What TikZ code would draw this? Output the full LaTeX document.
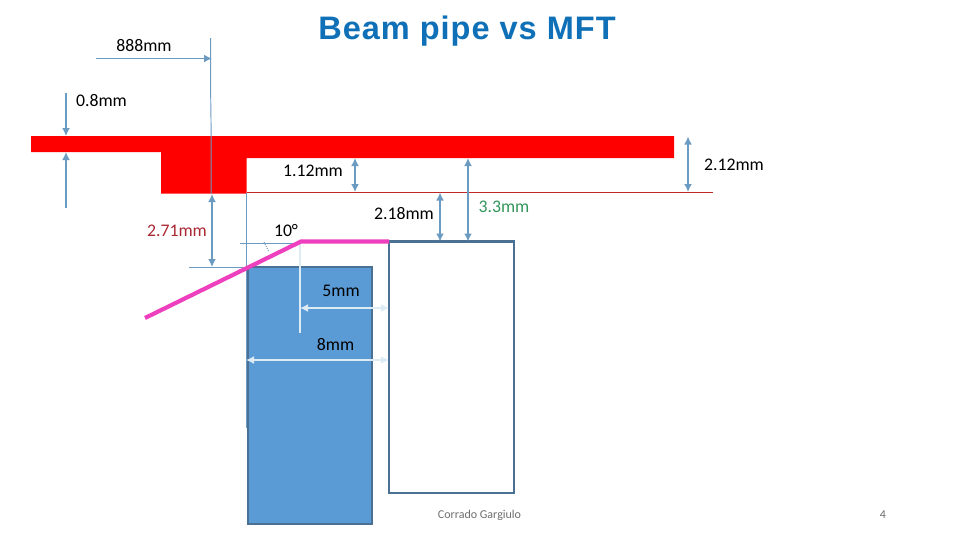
\documentclass[tikz,border=0pt]{standalone}
\usepackage{fontspec}
\setmainfont{Carlito}
\newfontfamily\titlefont[LetterSpace=3]{Liberation Sans}
\usetikzlibrary{arrows.meta}
\definecolor{dimblue}{HTML}{6C9BC2}
\definecolor{boxedge}{HTML}{4A7094}
\definecolor{boxfill}{HTML}{5B9BD5}
\definecolor{pinkline}{HTML}{EE3FBE}
\definecolor{pale}{HTML}{DDEBF5}
\definecolor{titleblue}{HTML}{0F70B7}
\tikzset{
  x=0.75pt,y=-0.75pt,
  dimarrow/.style={draw=dimblue,line width=1.4pt,{Latex[length=6pt,width=6pt]}-{Latex[length=6pt,width=6pt]}},
  onearrow/.style={draw=dimblue,line width=1.4pt,-{Latex[length=6pt,width=6pt]}},
  paledim/.style={draw=pale,line width=1.4pt,{Latex[length=6pt,width=6pt]}-{Latex[length=6pt,width=6pt]}},
  guide/.style={draw=dimblue,line width=0.7pt},
  lab/.style={font=\fontsize{13.3}{15}\selectfont,inner sep=0pt,text=black}
}
\begin{document}
\begin{tikzpicture}
\useasboundingbox (0,0) rectangle (960,540);
\fill[white] (0,0) rectangle (960,540);
% boxes
\fill[boxfill] (248,267) rectangle (372,524);
\draw[boxedge,line width=1.7pt] (248,267) rectangle (372,524);
\draw[boxedge,line width=1.7pt] (389,241.5) rectangle (514,493);
% red beam pipe
\fill[red] (31,136) -- (674,136) -- (674,158) -- (246.5,158) -- (246.5,193.7) -- (161,193.7) -- (161,152) -- (31,152) -- cycle;
\draw[draw={rgb,255:red,190;green,40;blue,40},line width=0.7pt] (246.5,192.5) -- (713,192.5);
% guides
\draw[guide] (210.7,38) -- (210.7,97) -- (211.2,136) -- (211.2,194);
\draw[guide] (246.5,193) -- (246.5,428);
\draw[guide] (189,267) -- (247,267);
\draw[guide] (240,243) -- (300,243);
\draw[guide,densely dotted] (264,242) -- (269,252);
\draw[pale,line width=0.9pt] (300,241) -- (300,333);
% pink
\draw[pinkline,line width=3.1pt] (145,318) -- (301,241.5) -- (389,241.5);
% arrows
\coordinate (a888s) at (96,58.5); \coordinate (a888e) at (212,58.5);
\draw[onearrow] (a888s) -- (a888e);
\coordinate (a08a) at (66,93); \coordinate (a08b) at (66,136);
\draw[onearrow] (a08a) -- (a08b);
\coordinate (a08c) at (66,208); \coordinate (a08d) at (66,152);
\draw[onearrow] (a08c) -- (a08d);
\coordinate (a271a) at (212,194); \coordinate (a271b) at (212,267);
\draw[dimarrow] (a271a) -- (a271b);
\coordinate (a112a) at (355,158); \coordinate (a112b) at (355,192);
\draw[dimarrow] (a112a) -- (a112b);
\coordinate (a212a) at (688,136.5); \coordinate (a212b) at (688,192);
\draw[dimarrow] (a212a) -- (a212b);
\coordinate (a218a) at (440,192.5); \coordinate (a218b) at (440,241.5);
\draw[dimarrow] (a218a) -- (a218b);
\coordinate (a33a) at (468,158); \coordinate (a33b) at (468,241.5);
\draw[dimarrow] (a33a) -- (a33b);
\coordinate (a5a) at (300,308); \coordinate (a5b) at (389,308);
\draw[paledim] (a5a) -- (a5b);
\coordinate (a8a) at (246,360); \coordinate (a8b) at (389,360);
\draw[paledim] (a8a) -- (a8b);
% text
\node[anchor=center,text=titleblue,inner sep=0pt,font=\titlefont\bfseries\fontsize{24.4}{26}\selectfont] (title) at (467,31) {Beam pipe vs MFT};
\node[lab] (t888) at (144,45.5) {888mm};
\node[lab] (t08) at (101.5,101) {0.8mm};
\node[lab] (t112) at (313,170.5) {1.12mm};
\node[lab] (t212) at (734,164.5) {2.12mm};
\node[lab,text={rgb,255:red,170;green,40;blue,50}] (t271) at (177,231) {2.71mm};
\node[lab] (t10) at (286,230) {10°};
\node[lab] (t218) at (404,213.5) {2.18mm};
\node[lab,text={rgb,255:red,50;green,150;blue,90}] (t33) at (504,206.5) {3.3mm};
\node[lab] (t5) at (341,290.5) {5mm};
\node[lab] (t8) at (335.5,344.5) {8mm};
\node[inner sep=0pt,text={rgb,255:red,110;green,110;blue,110},font=\fontsize{9}{11}\selectfont] (author) at (479.5,515) {Corrado Gargiulo};
\node[inner sep=0pt,text={rgb,255:red,110;green,110;blue,110},font=\fontsize{9}{11}\selectfont] (page) at (883,514.5) {4};
\end{tikzpicture}
\end{document}
